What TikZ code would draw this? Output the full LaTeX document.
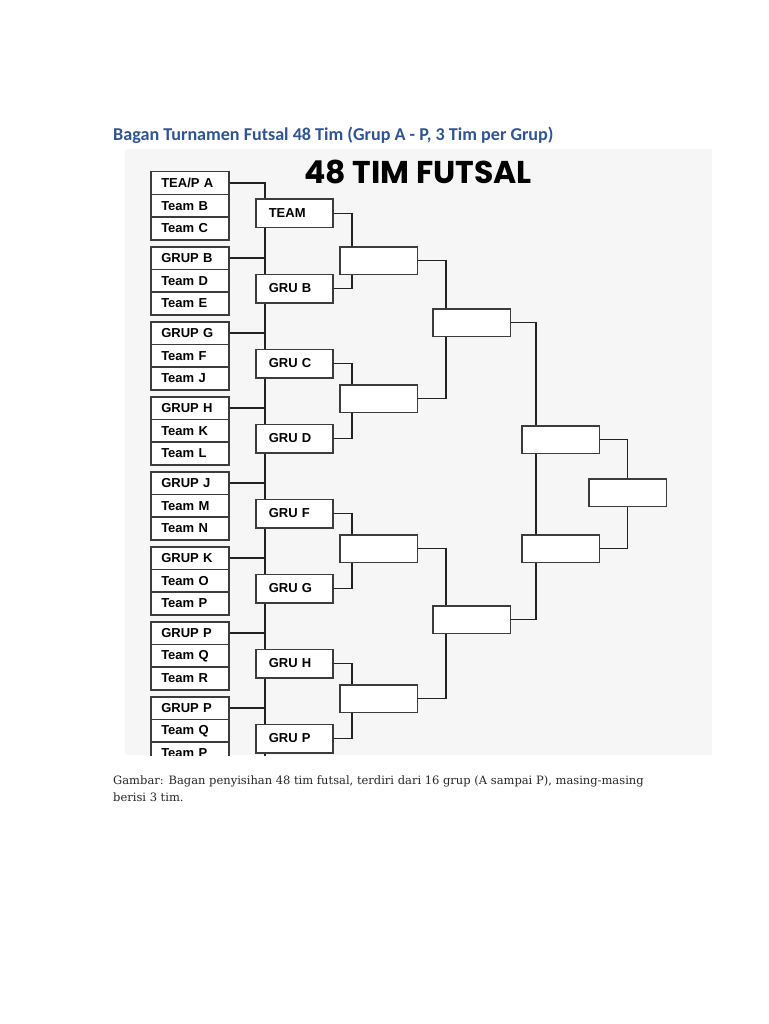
\documentclass[tikz,border=0pt]{standalone}
\usepackage{fontspec}
\setmainfont{DejaVu Serif}
\newfontfamily\headfont{Carlito}
\newfontfamily\labelfont{Liberation Sans}
\newfontfamily\titlefont{Poppins}
\usepackage{xcolor}
\definecolor{headblue}{HTML}{2F5496}
\definecolor{panelgray}{HTML}{F6F6F6}
\definecolor{boxline}{HTML}{3C3C3C}
\definecolor{wirecol}{HTML}{222222}
\tikzset{
team/.style={draw=boxline,fill=white,line width=1.5pt,anchor=north west,minimum height=22.67pt,
  text width=57pt,inner xsep=10.5pt,inner ysep=0pt,align=left,
  font=\labelfont\bfseries\fontsize{13}{14}\selectfont},
gru/.style={team,minimum height=28.5pt,text width=51pt,inner xsep=13pt},
blank/.style={draw=boxline,fill=white,line width=1.5pt,anchor=north west,
  minimum width=77.5pt,minimum height=27.5pt,inner sep=0pt},
wire/.style={draw=wirecol,line width=1.9pt}
}

\begin{document}
\begin{tikzpicture}[x=1pt,y=-1pt]
\useasboundingbox (0,0) rectangle (768,1024);
\fill[panelgray] (125,149) rectangle (712,755);

\node[anchor=base west,inner sep=0pt,text=headblue,font=\headfont\bfseries\fontsize{18.1}{20}\selectfont] (heading) at (113,140.5) {Bagan Turnamen Futsal 48 Tim (Grup A - P, 3 Tim per Grup)};
\node[anchor=base west,inner sep=0pt,font=\titlefont\bfseries\fontsize{31.5}{34}\selectfont] (title) at (304,184) {48 TIM FUTSAL};

\begin{scope}
\clip (125,149) rectangle (712,755);
% group boxes
\node[team] (a1) at (150,171) {TEA/P A};
\node[team] (b1) at (150,193.67) {Team B};
\node[team] (c1) at (150,216.33) {Team C};
\node[team] (a2) at (150,246) {GRUP B};
\node[team] (b2) at (150,268.67) {Team D};
\node[team] (c2) at (150,291.33) {Team E};
\node[team] (a3) at (150,321) {GRUP G};
\node[team] (b3) at (150,343.67) {Team F};
\node[team] (c3) at (150,366.33) {Team J};
\node[team] (a4) at (150,396) {GRUP H};
\node[team] (b4) at (150,418.67) {Team K};
\node[team] (c4) at (150,441.33) {Team L};
\node[team] (a5) at (150,471) {GRUP J};
\node[team] (b5) at (150,493.67) {Team M};
\node[team] (c5) at (150,516.33) {Team N};
\node[team] (a6) at (150,546) {GRUP K};
\node[team] (b6) at (150,568.67) {Team O};
\node[team] (c6) at (150,591.33) {Team P};
\node[team] (a7) at (150,621) {GRUP P};
\node[team] (b7) at (150,643.67) {Team Q};
\node[team] (c7) at (150,666.33) {Team R};
\node[team] (a8) at (150,696) {GRUP P};
\node[team] (b8) at (150,718.67) {Team Q};
\node[team] (c8) at (150,741.33) {Team P};

% group winners
\node[gru] (g1) at (255,198.5) {TEAM};
\node[gru] (g2) at (255,273.5) {GRU B};
\node[gru] (g3) at (255,348.5) {GRU C};
\node[gru] (g4) at (255,423.5) {GRU D};
\node[gru] (g5) at (255,498.5) {GRU F};
\node[gru] (g6) at (255,573.5) {GRU G};
\node[gru] (g7) at (255,648.5) {GRU H};
\node[gru] (g8) at (255,723.5) {GRU P};

% empty rounds
\node[blank] (r1) at (339,246) {};
\node[blank] (r2) at (339,384) {};
\node[blank] (r3) at (339,534) {};
\node[blank] (r4) at (339,684) {};
\node[blank] (s1) at (432,308) {};
\node[blank] (s2) at (432,605) {};
\node[blank] (q1) at (521,425) {};
\node[blank] (q2) at (521,534) {};
\node[blank] (f) at (588,478) {};

\coordinate (v1) at (265,0);
\coordinate (v2) at (352,0);
\coordinate (v3) at (446,0);
\coordinate (v4) at (536,0);

% left spine
\draw[wire] (a1.east) -| (v1 |- g1.north);
\draw[wire] (v1 |- g1.south) -- (v1 |- g2.north);
\draw[wire] (v1 |- g2.south) -- (v1 |- g3.north);
\draw[wire] (v1 |- g3.south) -- (v1 |- g4.north);
\draw[wire] (v1 |- g4.south) -- (v1 |- g5.north);
\draw[wire] (v1 |- g5.south) -- (v1 |- g6.north);
\draw[wire] (v1 |- g6.south) -- (v1 |- g7.north);
\draw[wire] (v1 |- g7.south) -- (v1 |- g8.north);
\draw[wire] (v1 |- g8.south) -- ++(0,20);
\draw[wire] (a2.east) -- (v1 |- a2.east);
\draw[wire] (a3.east) -- (v1 |- a3.east);
\draw[wire] (a4.east) -- (v1 |- a4.east);
\draw[wire] (a5.east) -- (v1 |- a5.east);
\draw[wire] (a6.east) -- (v1 |- a6.east);
\draw[wire] (a7.east) -- (v1 |- a7.east);
\draw[wire] (a8.east) -- (v1 |- a8.east);

% rounds
\draw[wire] (g1.east) -| (v2 |- r1.north);
\draw[wire] (g2.east) -| (v2 |- r1.south);
\draw[wire] (g3.east) -| (v2 |- r2.north);
\draw[wire] (g4.east) -| (v2 |- r2.south);
\draw[wire] (g5.east) -| (v2 |- r3.north);
\draw[wire] (g6.east) -| (v2 |- r3.south);
\draw[wire] (g7.east) -| (v2 |- r4.north);
\draw[wire] (g8.east) -| (v2 |- r4.south);
\draw[wire] (r1.east) -| (v3 |- s1.north);
\draw[wire] (r2.east) -| (v3 |- s1.south);
\draw[wire] (r3.east) -| (v3 |- s2.north);
\draw[wire] (r4.east) -| (v3 |- s2.south);
\draw[wire] (s1.east) -| (v4 |- q1.north);
\draw[wire] (v4 |- q1.south) -- (v4 |- q2.north);
\draw[wire] (s2.east) -| (v4 |- q2.south);
\draw[wire] (q1.east) -| (f.north);
\draw[wire] (q2.east) -| (f.south);
\end{scope}

\node[anchor=base west,inner sep=0pt,font=\fontsize{11.5}{17}\selectfont,text=black!85] (cap1) at (113,784) {Gambar: Bagan penyisihan 48 tim futsal, terdiri dari 16 grup (A sampai P), masing-masing};
\node[anchor=base west,inner sep=0pt,font=\fontsize{11.5}{17}\selectfont,text=black!85] (cap2) at (113,801) {berisi 3 tim.};
\end{tikzpicture}
\end{document}
